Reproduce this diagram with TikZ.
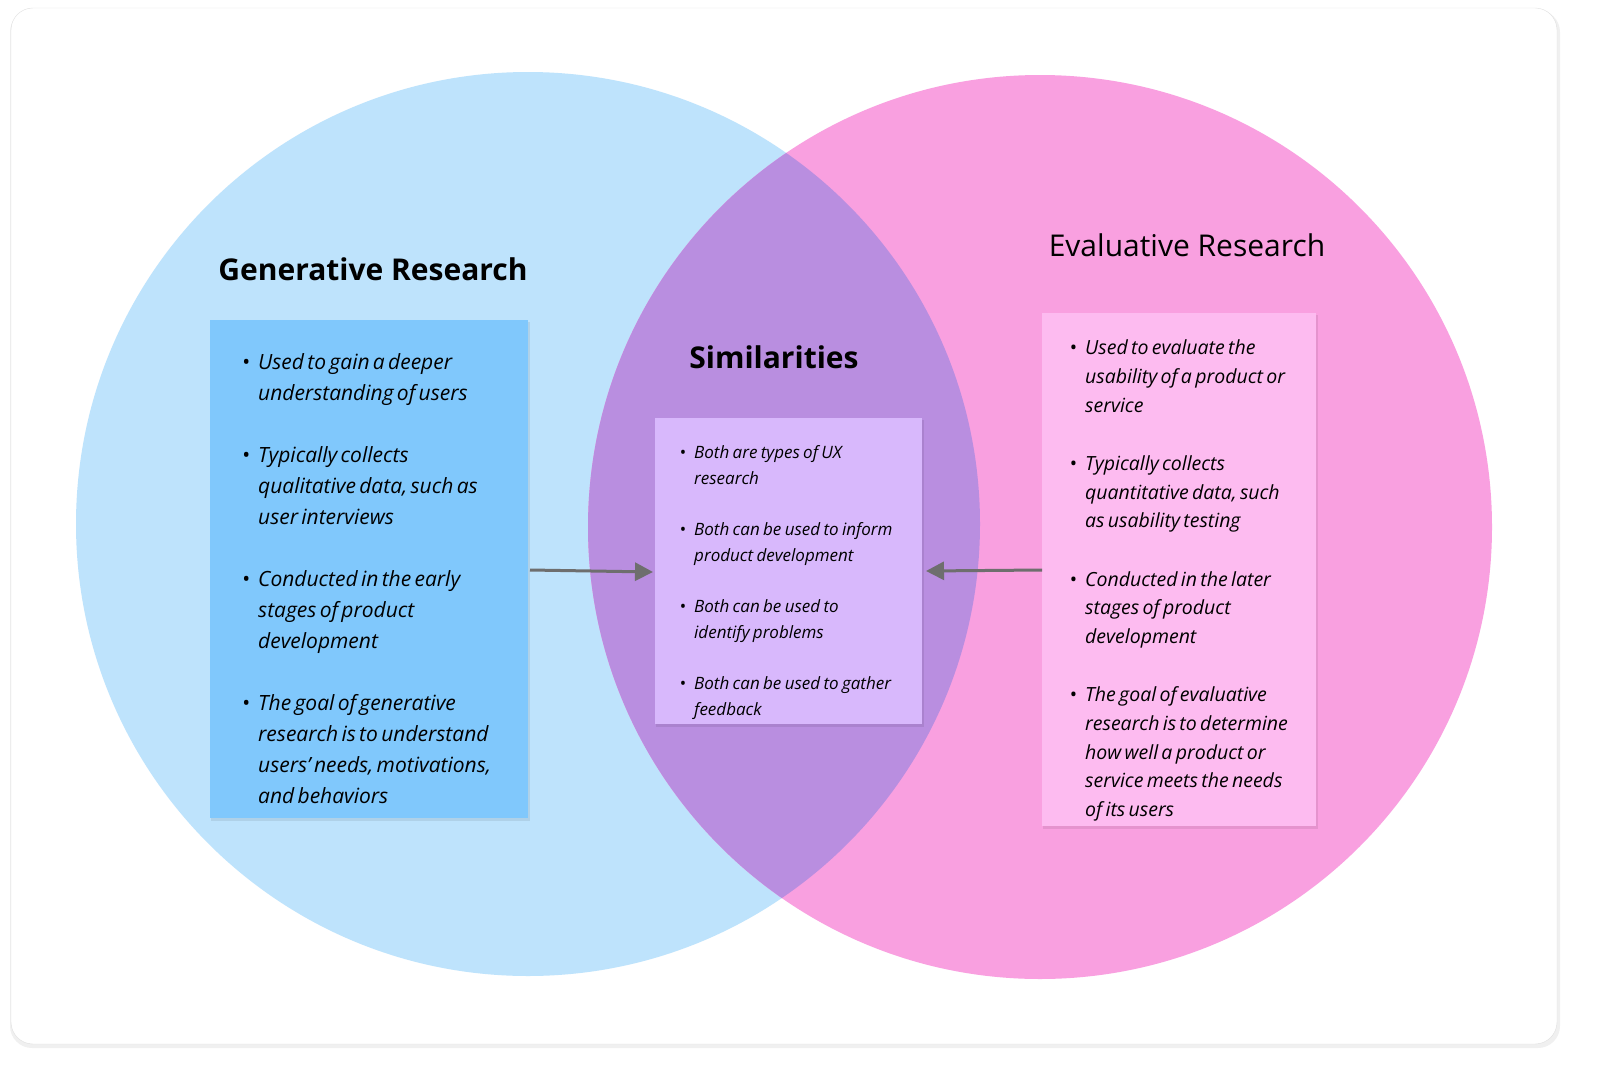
\documentclass[tikz,border=0pt]{standalone}
\usepackage{fontspec}
\setmainfont{Open Sans}
\usepackage{enumitem}
\usetikzlibrary{arrows.meta}
\definecolor{lblue}{HTML}{BEE3FC}
\definecolor{lpink}{HTML}{F9A0E0}
\definecolor{lpurple}{HTML}{B98EE0}
\definecolor{bblue}{HTML}{80C8FC}
\definecolor{bpink}{HTML}{FDBBF0}
\definecolor{bpurple}{HTML}{D8B8FC}
\definecolor{arrowgray}{HTML}{6E6E6E}
\tikzset{
  listbox/.style={anchor=north west,inner sep=0pt,align=left},
  conn/.style={draw=arrowgray,line width=3pt,-{Triangle[length=18pt,width=18pt]}},
  title/.style={inner sep=0pt,font=\fontsize{30}{36}\selectfont},
  shade/.style={fill=black,opacity=0.08}
}
\newcommand{\mylist}[4]{\fontsize{#1}{#2}\selectfont\itshape
  \begin{itemize}[leftmargin=#4,itemsep=#3,topsep=0pt,parsep=0pt,partopsep=0pt,labelsep=8pt]}
\begin{document}
\begin{tikzpicture}[x=1pt,y=-1pt]
\useasboundingbox (0,0) rectangle (1600,1081);
\fill[white] (0,0) rectangle (1600,1081);
\fill[black,opacity=0.06,rounded corners=22pt] (10,10) rectangle (1560,1048);
\node[draw=black!12,fill=white,rounded corners=22pt,minimum width=1546pt,minimum height=1036pt,inner sep=0pt] (frame) at (784,526) {};
\fill[lblue] (528,524) circle (452);
\fill[lpink] (1040,527) circle (452);
\begin{scope}
\clip (528,524) circle (452);
\fill[lpurple] (1040,527) circle (452);
\end{scope}
\fill[shade] (211,322) rectangle (530,821);
\fill[shade] (1043,315) rectangle (1318,829);
\fill[shade] (656,420) rectangle (924,727);
\fill[bblue] (210,320) rectangle (528,818);
\fill[bpink] (1042,313) rectangle (1316,826);
\fill[bpurple] (655,418) rectangle (922,724);
\coordinate (lbox) at (530,570);
\coordinate (rbox) at (1042,570);
\coordinate (ml) at (653,572);
\coordinate (mr) at (926,571);
\node[title,font=\fontsize{30}{36}\selectfont\bfseries] (gen) at (373,269) {Generative Research};
\node[title] (eva) at (1187,245) {Evaluative Research};
\node[title,font=\fontsize{30}{36}\selectfont\bfseries] (sim) at (774,357) {Similarities};
\node[listbox,text width=272pt] (gl) at (230,338) {\mylist{21}{31}{31pt}{28pt}
\item Used to gain a deeper understanding of users
\item Typically collects qualitative data, such as user interviews
\item Conducted in the early stages of product development
\item The goal of generative research is to understand users' needs, motivations, and behaviors
\end{itemize}};
\node[listbox,text width=232pt] (el) at (1058,326) {\mylist{19.5}{28.7}{29.5pt}{27pt}
\item Used to evaluate the usability of a product or service
\item Typically collects quantitative data, such as usability testing
\item Conducted in the later stages of product development
\item The goal of evaluative research is to determine how well a product or service meets the needs of its users
\end{itemize}};
\node[listbox,text width=245pt] (sl) at (670,432) {\mylist{17}{26}{25pt}{24pt}
\item Both are types of UX\\ research
\item Both can be used to inform\\ product development
\item Both can be used to\\ identify problems
\item Both can be used to gather\\ feedback
\end{itemize}};
\draw[conn] (lbox) -- (ml);
\draw[conn] (rbox) -- (mr);
\end{tikzpicture}
\end{document}
